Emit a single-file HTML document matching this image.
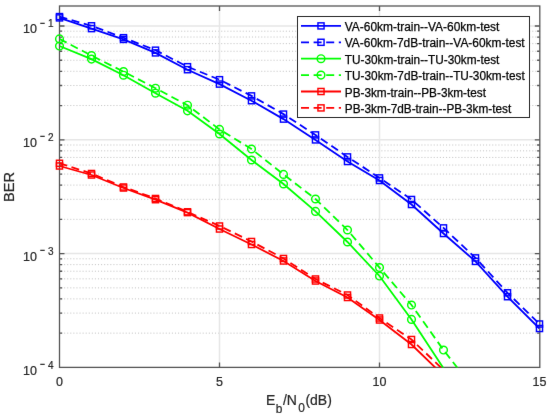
<!DOCTYPE html>
<html><head><meta charset="utf-8"><title>BER</title>
<style>html,body{margin:0;padding:0;background:#fff;width:550px;height:416px;overflow:hidden}svg{display:block}</style>
</head><body>
<svg width="550" height="416" viewBox="0 0 550 416"><rect x="0" y="0" width="550" height="416" fill="#ffffff"/><defs><filter id="bl" x="0" y="0" width="100%" height="100%" filterUnits="userSpaceOnUse" color-interpolation-filters="sRGB"><feConvolveMatrix order="3" kernelMatrix="0.0028 0.0470 0.0028 0.0470 0.8008 0.0470 0.0028 0.0470 0.0028" edgeMode="duplicate"/></filter><clipPath id="ax"><rect x="59.5" y="6.0" width="480.0" height="361.4"/></clipPath></defs><g filter="url(#bl)"><path d="M61 333.14H539.5M61 313.10H539.5M61 298.89H539.5M61 287.86H539.5M61 278.85H539.5M61 271.23H539.5M61 264.63H539.5M61 258.81H539.5M61 219.34H539.5M61 199.30H539.5M61 185.09H539.5M61 174.06H539.5M61 165.05H539.5M61 157.43H539.5M61 150.83H539.5M61 145.01H539.5M61 105.54H539.5M61 85.50H539.5M61 71.29H539.5M61 60.26H539.5M61 51.25H539.5M61 43.63H539.5M61 37.03H539.5M61 31.21H539.5" stroke="#c6c6c6" stroke-width="1" stroke-dasharray="1.1 1.98" fill="none"/><path d="M59.5 253.60H539.5M59.5 139.80H539.5M59.5 26.00H539.5M219.5 6.0V367.4M379.5 6.0V367.4" stroke="#e6e6e6" stroke-width="1.5" fill="none"/><path d="M59.5 333.14h2.7M539.8 333.14h-2.7M59.5 313.10h2.7M539.8 313.10h-2.7M59.5 298.89h2.7M539.8 298.89h-2.7M59.5 287.86h2.7M539.8 287.86h-2.7M59.5 278.85h2.7M539.8 278.85h-2.7M59.5 271.23h2.7M539.8 271.23h-2.7M59.5 264.63h2.7M539.8 264.63h-2.7M59.5 258.81h2.7M539.8 258.81h-2.7M59.5 253.60h5M539.8 253.60h-5M59.5 219.34h2.7M539.8 219.34h-2.7M59.5 199.30h2.7M539.8 199.30h-2.7M59.5 185.09h2.7M539.8 185.09h-2.7M59.5 174.06h2.7M539.8 174.06h-2.7M59.5 165.05h2.7M539.8 165.05h-2.7M59.5 157.43h2.7M539.8 157.43h-2.7M59.5 150.83h2.7M539.8 150.83h-2.7M59.5 145.01h2.7M539.8 145.01h-2.7M59.5 139.80h5M539.8 139.80h-5M59.5 105.54h2.7M539.8 105.54h-2.7M59.5 85.50h2.7M539.8 85.50h-2.7M59.5 71.29h2.7M539.8 71.29h-2.7M59.5 60.26h2.7M539.8 60.26h-2.7M59.5 51.25h2.7M539.8 51.25h-2.7M59.5 43.63h2.7M539.8 43.63h-2.7M59.5 37.03h2.7M539.8 37.03h-2.7M59.5 31.21h2.7M539.8 31.21h-2.7M59.5 26.00h5M539.8 26.00h-5M219.5 367.4v-5M219.5 6.0v5M379.5 367.4v-5M379.5 6.0v5" stroke="#555555" stroke-width="1.3" fill="none"/><rect x="59.5" y="6.0" width="480.30" height="361.40" stroke="#555555" stroke-width="1.3" fill="none"/><g clip-path="url(#ax)" fill="none" stroke-linejoin="miter"><path d="M59.50 17.90 L91.50 28.60 L123.50 39.40 L155.50 52.90 L187.50 69.70 L219.50 84.10 L251.50 100.70 L283.50 119.10 L315.50 139.90 L347.50 161.50 L379.50 180.50 L411.50 204.50 L443.50 233.50 L475.50 261.40 L507.50 296.70 L539.50 328.50" stroke="#0000ff" stroke-width="1.8"/><path d="M59.50 16.60 L91.50 25.80 L123.50 37.70 L155.50 50.20 L187.50 66.70 L219.50 79.70 L251.50 95.90 L283.50 114.10 L315.50 134.90 L347.50 156.90 L379.50 177.90 L411.50 199.50 L443.50 227.90 L475.50 257.90 L507.50 292.80 L539.50 324.00" stroke="#0000ff" stroke-width="1.8" stroke-dasharray="8 4.6"/><path d="M59.50 46.00 L91.50 59.10 L123.50 75.20 L155.50 93.20 L187.50 110.80 L219.50 134.00 L251.50 160.00 L283.50 184.00 L315.50 211.40 L347.50 242.00 L379.50 276.00 L411.50 319.40 L443.50 368.30" stroke="#00ff00" stroke-width="1.8"/><path d="M59.50 38.90 L91.50 55.60 L123.50 71.60 L155.50 88.20 L187.50 105.20 L219.50 129.40 L251.50 149.00 L283.50 174.40 L315.50 199.00 L347.50 230.00 L379.50 267.60 L411.50 305.00 L443.50 350.00 L475.50 391.00" stroke="#00ff00" stroke-width="1.8" stroke-dasharray="8 4.6"/><path d="M59.50 166.00 L91.50 175.00 L123.50 188.00 L155.50 199.70 L187.50 212.60 L219.50 229.00 L251.50 244.50 L283.50 261.00 L315.50 281.00 L347.50 297.50 L379.50 320.00 L411.50 344.50 L443.50 375.50" stroke="#ff0000" stroke-width="1.8"/><path d="M59.50 163.30 L91.50 173.50 L123.50 187.00 L155.50 198.50 L187.50 211.80 L219.50 226.00 L251.50 241.50 L283.50 258.50 L315.50 279.00 L347.50 295.00 L379.50 318.00 L411.50 339.50 L443.50 370.00" stroke="#ff0000" stroke-width="1.8" stroke-dasharray="8 4.6"/></g><g fill="none"><rect x="56.45" y="14.85" width="6.1" height="6.1" stroke="#0000ff" stroke-width="1.45"/><rect x="88.45" y="25.55" width="6.1" height="6.1" stroke="#0000ff" stroke-width="1.45"/><rect x="120.45" y="36.35" width="6.1" height="6.1" stroke="#0000ff" stroke-width="1.45"/><rect x="152.45" y="49.85" width="6.1" height="6.1" stroke="#0000ff" stroke-width="1.45"/><rect x="184.45" y="66.65" width="6.1" height="6.1" stroke="#0000ff" stroke-width="1.45"/><rect x="216.45" y="81.05" width="6.1" height="6.1" stroke="#0000ff" stroke-width="1.45"/><rect x="248.45" y="97.65" width="6.1" height="6.1" stroke="#0000ff" stroke-width="1.45"/><rect x="280.45" y="116.05" width="6.1" height="6.1" stroke="#0000ff" stroke-width="1.45"/><rect x="312.45" y="136.85" width="6.1" height="6.1" stroke="#0000ff" stroke-width="1.45"/><rect x="344.45" y="158.45" width="6.1" height="6.1" stroke="#0000ff" stroke-width="1.45"/><rect x="376.45" y="177.45" width="6.1" height="6.1" stroke="#0000ff" stroke-width="1.45"/><rect x="408.45" y="201.45" width="6.1" height="6.1" stroke="#0000ff" stroke-width="1.45"/><rect x="440.45" y="230.45" width="6.1" height="6.1" stroke="#0000ff" stroke-width="1.45"/><rect x="472.45" y="258.35" width="6.1" height="6.1" stroke="#0000ff" stroke-width="1.45"/><rect x="504.45" y="293.65" width="6.1" height="6.1" stroke="#0000ff" stroke-width="1.45"/><rect x="536.45" y="325.45" width="6.1" height="6.1" stroke="#0000ff" stroke-width="1.45"/><rect x="56.45" y="13.55" width="6.1" height="6.1" stroke="#0000ff" stroke-width="1.45"/><rect x="88.45" y="22.75" width="6.1" height="6.1" stroke="#0000ff" stroke-width="1.45"/><rect x="120.45" y="34.65" width="6.1" height="6.1" stroke="#0000ff" stroke-width="1.45"/><rect x="152.45" y="47.15" width="6.1" height="6.1" stroke="#0000ff" stroke-width="1.45"/><rect x="184.45" y="63.65" width="6.1" height="6.1" stroke="#0000ff" stroke-width="1.45"/><rect x="216.45" y="76.65" width="6.1" height="6.1" stroke="#0000ff" stroke-width="1.45"/><rect x="248.45" y="92.85" width="6.1" height="6.1" stroke="#0000ff" stroke-width="1.45"/><rect x="280.45" y="111.05" width="6.1" height="6.1" stroke="#0000ff" stroke-width="1.45"/><rect x="312.45" y="131.85" width="6.1" height="6.1" stroke="#0000ff" stroke-width="1.45"/><rect x="344.45" y="153.85" width="6.1" height="6.1" stroke="#0000ff" stroke-width="1.45"/><rect x="376.45" y="174.85" width="6.1" height="6.1" stroke="#0000ff" stroke-width="1.45"/><rect x="408.45" y="196.45" width="6.1" height="6.1" stroke="#0000ff" stroke-width="1.45"/><rect x="440.45" y="224.85" width="6.1" height="6.1" stroke="#0000ff" stroke-width="1.45"/><rect x="472.45" y="254.85" width="6.1" height="6.1" stroke="#0000ff" stroke-width="1.45"/><rect x="504.45" y="289.75" width="6.1" height="6.1" stroke="#0000ff" stroke-width="1.45"/><rect x="536.45" y="320.95" width="6.1" height="6.1" stroke="#0000ff" stroke-width="1.45"/><circle cx="59.50" cy="46.00" r="3.85" stroke="#00ff00" stroke-width="1.45"/><circle cx="91.50" cy="59.10" r="3.85" stroke="#00ff00" stroke-width="1.45"/><circle cx="123.50" cy="75.20" r="3.85" stroke="#00ff00" stroke-width="1.45"/><circle cx="155.50" cy="93.20" r="3.85" stroke="#00ff00" stroke-width="1.45"/><circle cx="187.50" cy="110.80" r="3.85" stroke="#00ff00" stroke-width="1.45"/><circle cx="219.50" cy="134.00" r="3.85" stroke="#00ff00" stroke-width="1.45"/><circle cx="251.50" cy="160.00" r="3.85" stroke="#00ff00" stroke-width="1.45"/><circle cx="283.50" cy="184.00" r="3.85" stroke="#00ff00" stroke-width="1.45"/><circle cx="315.50" cy="211.40" r="3.85" stroke="#00ff00" stroke-width="1.45"/><circle cx="347.50" cy="242.00" r="3.85" stroke="#00ff00" stroke-width="1.45"/><circle cx="379.50" cy="276.00" r="3.85" stroke="#00ff00" stroke-width="1.45"/><circle cx="411.50" cy="319.40" r="3.85" stroke="#00ff00" stroke-width="1.45"/><circle cx="59.50" cy="38.90" r="3.85" stroke="#00ff00" stroke-width="1.45"/><circle cx="91.50" cy="55.60" r="3.85" stroke="#00ff00" stroke-width="1.45"/><circle cx="123.50" cy="71.60" r="3.85" stroke="#00ff00" stroke-width="1.45"/><circle cx="155.50" cy="88.20" r="3.85" stroke="#00ff00" stroke-width="1.45"/><circle cx="187.50" cy="105.20" r="3.85" stroke="#00ff00" stroke-width="1.45"/><circle cx="219.50" cy="129.40" r="3.85" stroke="#00ff00" stroke-width="1.45"/><circle cx="251.50" cy="149.00" r="3.85" stroke="#00ff00" stroke-width="1.45"/><circle cx="283.50" cy="174.40" r="3.85" stroke="#00ff00" stroke-width="1.45"/><circle cx="315.50" cy="199.00" r="3.85" stroke="#00ff00" stroke-width="1.45"/><circle cx="347.50" cy="230.00" r="3.85" stroke="#00ff00" stroke-width="1.45"/><circle cx="379.50" cy="267.60" r="3.85" stroke="#00ff00" stroke-width="1.45"/><circle cx="411.50" cy="305.00" r="3.85" stroke="#00ff00" stroke-width="1.45"/><circle cx="443.50" cy="350.00" r="3.85" stroke="#00ff00" stroke-width="1.45"/><rect x="56.45" y="162.95" width="6.1" height="6.1" stroke="#ff0000" stroke-width="1.45"/><rect x="88.45" y="171.95" width="6.1" height="6.1" stroke="#ff0000" stroke-width="1.45"/><rect x="120.45" y="184.95" width="6.1" height="6.1" stroke="#ff0000" stroke-width="1.45"/><rect x="152.45" y="196.65" width="6.1" height="6.1" stroke="#ff0000" stroke-width="1.45"/><rect x="184.45" y="209.55" width="6.1" height="6.1" stroke="#ff0000" stroke-width="1.45"/><rect x="216.45" y="225.95" width="6.1" height="6.1" stroke="#ff0000" stroke-width="1.45"/><rect x="248.45" y="241.45" width="6.1" height="6.1" stroke="#ff0000" stroke-width="1.45"/><rect x="280.45" y="257.95" width="6.1" height="6.1" stroke="#ff0000" stroke-width="1.45"/><rect x="312.45" y="277.95" width="6.1" height="6.1" stroke="#ff0000" stroke-width="1.45"/><rect x="344.45" y="294.45" width="6.1" height="6.1" stroke="#ff0000" stroke-width="1.45"/><rect x="376.45" y="316.95" width="6.1" height="6.1" stroke="#ff0000" stroke-width="1.45"/><rect x="408.45" y="341.45" width="6.1" height="6.1" stroke="#ff0000" stroke-width="1.45"/><rect x="56.45" y="160.25" width="6.1" height="6.1" stroke="#ff0000" stroke-width="1.45"/><rect x="88.45" y="170.45" width="6.1" height="6.1" stroke="#ff0000" stroke-width="1.45"/><rect x="120.45" y="183.95" width="6.1" height="6.1" stroke="#ff0000" stroke-width="1.45"/><rect x="152.45" y="195.45" width="6.1" height="6.1" stroke="#ff0000" stroke-width="1.45"/><rect x="184.45" y="208.75" width="6.1" height="6.1" stroke="#ff0000" stroke-width="1.45"/><rect x="216.45" y="222.95" width="6.1" height="6.1" stroke="#ff0000" stroke-width="1.45"/><rect x="248.45" y="238.45" width="6.1" height="6.1" stroke="#ff0000" stroke-width="1.45"/><rect x="280.45" y="255.45" width="6.1" height="6.1" stroke="#ff0000" stroke-width="1.45"/><rect x="312.45" y="275.95" width="6.1" height="6.1" stroke="#ff0000" stroke-width="1.45"/><rect x="344.45" y="291.95" width="6.1" height="6.1" stroke="#ff0000" stroke-width="1.45"/><rect x="376.45" y="314.95" width="6.1" height="6.1" stroke="#ff0000" stroke-width="1.45"/><rect x="408.45" y="336.45" width="6.1" height="6.1" stroke="#ff0000" stroke-width="1.45"/></g><g font-family="'Liberation Sans', Arial, Helvetica, sans-serif" fill="#262626" stroke="#262626" stroke-width="0.2"><text x="59.5" y="386.3" font-size="12.5" text-anchor="middle">0</text><text x="219.5" y="386.3" font-size="12.5" text-anchor="middle">5</text><text x="379.5" y="386.3" font-size="12.5" text-anchor="middle">10</text><text x="539.5" y="386.3" font-size="12.5" text-anchor="middle">15</text><text x="23" y="33.30" font-size="12.5">10</text><text x="40.3" y="25.60" font-size="8.4" font-weight="bold">&#8722;</text><text x="48" y="27.20" font-size="10.00">1</text><text x="23" y="147.10" font-size="12.5">10</text><text x="40.3" y="139.40" font-size="8.4" font-weight="bold">&#8722;</text><text x="48" y="141.00" font-size="10.00">2</text><text x="23" y="260.90" font-size="12.5">10</text><text x="40.3" y="253.20" font-size="8.4" font-weight="bold">&#8722;</text><text x="48" y="254.80" font-size="10.00">3</text><text x="23" y="374.70" font-size="12.5">10</text><text x="40.3" y="367.00" font-size="8.4" font-weight="bold">&#8722;</text><text x="48" y="368.60" font-size="10.00">4</text><text x="265.9" y="405" font-size="14">E<tspan dx="0.6" dy="7.5" font-size="11.9">b</tspan><tspan dx="0.5" dy="-7.5">/N</tspan><tspan dx="1.3" dy="7.3" font-size="11.9">0</tspan><tspan dx="0.5" dy="-7.3">(dB)</tspan></text><text transform="translate(14.2 187.0) rotate(-90)" font-size="14.65" text-anchor="middle">BER</text></g><rect x="297.5" y="16.5" width="232.0" height="101.0" fill="#ffffff" stroke="#262626" stroke-width="1"/><path d="M301 25.90H341" stroke="#0000ff" stroke-width="1.8" fill="none"/><rect x="317.95" y="22.85" width="6.1" height="6.1" stroke="#0000ff" stroke-width="1.45" fill="none"/><text x="344.8" y="30.90" font-family="'Liberation Sans', Arial, Helvetica, sans-serif" font-size="12.5" fill="#000" stroke="#000" stroke-width="0.25" textLength="154.6" lengthAdjust="spacingAndGlyphs">VA-60km-train--VA-60km-test</text><path d="M301 42.30H341" stroke="#0000ff" stroke-width="1.8" stroke-dasharray="8 4.6" fill="none"/><rect x="317.95" y="39.25" width="6.1" height="6.1" stroke="#0000ff" stroke-width="1.45" fill="none"/><text x="344.8" y="47.30" font-family="'Liberation Sans', Arial, Helvetica, sans-serif" font-size="12.5" fill="#000" stroke="#000" stroke-width="0.25" textLength="179.9" lengthAdjust="spacingAndGlyphs">VA-60km-7dB-train--VA-60km-test</text><path d="M301 58.70H341" stroke="#00ff00" stroke-width="1.8" fill="none"/><circle cx="321" cy="58.70" r="3.85" stroke="#00ff00" stroke-width="1.45" fill="none"/><text x="344.8" y="63.70" font-family="'Liberation Sans', Arial, Helvetica, sans-serif" font-size="12.5" fill="#000" stroke="#000" stroke-width="0.25" textLength="154.6" lengthAdjust="spacingAndGlyphs">TU-30km-train--TU-30km-test</text><path d="M301 75.10H341" stroke="#00ff00" stroke-width="1.8" stroke-dasharray="8 4.6" fill="none"/><circle cx="321" cy="75.10" r="3.85" stroke="#00ff00" stroke-width="1.45" fill="none"/><text x="344.8" y="80.10" font-family="'Liberation Sans', Arial, Helvetica, sans-serif" font-size="12.5" fill="#000" stroke="#000" stroke-width="0.25" textLength="179.9" lengthAdjust="spacingAndGlyphs">TU-30km-7dB-train--TU-30km-test</text><path d="M301 91.50H341" stroke="#ff0000" stroke-width="1.8" fill="none"/><rect x="317.95" y="88.45" width="6.1" height="6.1" stroke="#ff0000" stroke-width="1.45" fill="none"/><text x="344.8" y="96.50" font-family="'Liberation Sans', Arial, Helvetica, sans-serif" font-size="12.5" fill="#000" stroke="#000" stroke-width="0.25" textLength="141.2" lengthAdjust="spacingAndGlyphs">PB-3km-train--PB-3km-test</text><path d="M301 107.90H341" stroke="#ff0000" stroke-width="1.8" stroke-dasharray="8 4.6" fill="none"/><rect x="317.95" y="104.85" width="6.1" height="6.1" stroke="#ff0000" stroke-width="1.45" fill="none"/><text x="344.8" y="112.90" font-family="'Liberation Sans', Arial, Helvetica, sans-serif" font-size="12.5" fill="#000" stroke="#000" stroke-width="0.25" textLength="166.5" lengthAdjust="spacingAndGlyphs">PB-3km-7dB-train--PB-3km-test</text></g></svg>
</body></html>
